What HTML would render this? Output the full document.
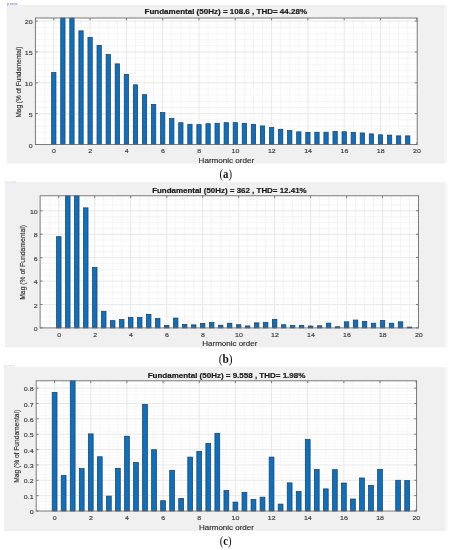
<!DOCTYPE html>
<html><head><meta charset="utf-8"><title>FFT harmonic spectra</title>
<style>
html,body{margin:0;padding:0;background:#fff}
svg{display:block}
text{font-family:"Liberation Sans",sans-serif}
.tk{font-size:6.1px;fill:#3c3c3c;stroke:#3c3c3c;stroke-width:0.15}
.xl{font-size:6.4px;fill:#333;stroke:#333;stroke-width:0.15}
.yl{font-size:8.0px;fill:#333;stroke:#333;stroke-width:0.15}
.tt{font-size:7.2px;font-weight:bold;fill:#1a1a1a;stroke:#1a1a1a;stroke-width:0.2}
.cp{font-family:"Liberation Serif",serif;font-size:11.7px;fill:#111}
</style></head>
<body>
<svg width="453" height="550" viewBox="0 0 453 550">
<defs><filter id="bl" x="-2%" y="-2%" width="104%" height="104%"><feGaussianBlur stdDeviation="0.55"/></filter></defs>
<rect width="453" height="550" fill="#fff"/>
<g filter="url(#bl)">
<g>
<rect x="6.8" y="5.0" width="440.4" height="158.4" fill="#f6f6f6"/>
<rect x="6.8" y="5.0" width="437.4" height="158.4" fill="#f0f0f0"/>
<text x="7.0" y="5.2" font-size="2.9" fill="#4646cc" opacity="0.9" textLength="10.6" lengthAdjust="spacingAndGlyphs">p error</text>
<rect x="35.4" y="18.0" width="381.8" height="126.5" fill="#fff"/>
<path d="M44.72 18.0V144.5M62.88 18.0V144.5M71.95 18.0V144.5M81.02 18.0V144.5M99.17 18.0V144.5M108.25 18.0V144.5M117.32 18.0V144.5M135.47 18.0V144.5M144.55 18.0V144.5M153.62 18.0V144.5M171.77 18.0V144.5M180.85 18.0V144.5M189.93 18.0V144.5M208.07 18.0V144.5M217.15 18.0V144.5M226.22 18.0V144.5M244.38 18.0V144.5M253.45 18.0V144.5M262.52 18.0V144.5M280.67 18.0V144.5M289.75 18.0V144.5M298.82 18.0V144.5M316.97 18.0V144.5M326.05 18.0V144.5M335.12 18.0V144.5M353.27 18.0V144.5M362.35 18.0V144.5M371.43 18.0V144.5M389.57 18.0V144.5M398.65 18.0V144.5M407.72 18.0V144.5M35.4 138.33H417.2M35.4 132.16H417.2M35.4 125.99H417.2M35.4 119.82H417.2M35.4 107.48H417.2M35.4 101.31H417.2M35.4 95.14H417.2M35.4 88.97H417.2M35.4 76.63H417.2M35.4 70.46H417.2M35.4 64.29H417.2M35.4 58.12H417.2M35.4 45.78H417.2M35.4 39.61H417.2M35.4 33.44H417.2M35.4 27.27H417.2" stroke="#f3f3f3" stroke-width="0.8" fill="none"/>
<path d="M53.80 18.0V144.5M90.10 18.0V144.5M126.40 18.0V144.5M162.70 18.0V144.5M199.00 18.0V144.5M235.30 18.0V144.5M271.60 18.0V144.5M307.90 18.0V144.5M344.20 18.0V144.5M380.50 18.0V144.5M35.4 113.65H417.2M35.4 82.80H417.2M35.4 51.95H417.2M35.4 21.10H417.2" stroke="#e5e5e5" stroke-width="0.9" fill="none"/>
<g fill="#0e70bf" stroke="#1d4068" stroke-width="0.75">
<rect x="51.65" y="72.50" width="4.30" height="72.00"/><rect x="60.73" y="18.00" width="4.30" height="126.50"/><rect x="69.80" y="18.00" width="4.30" height="126.50"/><rect x="78.87" y="30.85" width="4.30" height="113.65"/><rect x="87.95" y="37.33" width="4.30" height="107.17"/><rect x="97.02" y="45.35" width="4.30" height="99.15"/><rect x="106.10" y="54.60" width="4.30" height="89.90"/><rect x="115.17" y="63.86" width="4.30" height="80.64"/><rect x="124.25" y="74.35" width="4.30" height="70.15"/><rect x="133.32" y="84.84" width="4.30" height="59.66"/><rect x="142.40" y="94.71" width="4.30" height="49.79"/><rect x="151.47" y="104.40" width="4.30" height="40.10"/><rect x="160.55" y="112.60" width="4.30" height="31.90"/><rect x="169.62" y="118.59" width="4.30" height="25.91"/><rect x="178.70" y="122.72" width="4.30" height="21.78"/><rect x="187.78" y="124.32" width="4.30" height="20.18"/><rect x="196.85" y="124.63" width="4.30" height="19.87"/><rect x="205.92" y="123.71" width="4.30" height="20.79"/><rect x="215.00" y="123.28" width="4.30" height="21.22"/><rect x="224.07" y="122.66" width="4.30" height="21.84"/><rect x="233.15" y="122.66" width="4.30" height="21.84"/><rect x="242.22" y="123.28" width="4.30" height="21.22"/><rect x="251.30" y="124.32" width="4.30" height="20.18"/><rect x="260.38" y="125.93" width="4.30" height="18.57"/><rect x="269.45" y="127.59" width="4.30" height="16.91"/><rect x="278.52" y="129.26" width="4.30" height="15.24"/><rect x="287.60" y="130.49" width="4.30" height="14.01"/><rect x="296.68" y="131.85" width="4.30" height="12.65"/><rect x="305.75" y="132.35" width="4.30" height="12.15"/><rect x="314.82" y="132.22" width="4.30" height="12.28"/><rect x="323.90" y="132.22" width="4.30" height="12.28"/><rect x="332.98" y="131.48" width="4.30" height="13.02"/><rect x="342.05" y="131.73" width="4.30" height="12.77"/><rect x="351.12" y="132.35" width="4.30" height="12.15"/><rect x="360.20" y="132.96" width="4.30" height="11.54"/><rect x="369.28" y="133.89" width="4.30" height="10.61"/><rect x="378.35" y="134.81" width="4.30" height="9.69"/><rect x="387.43" y="135.12" width="4.30" height="9.38"/><rect x="396.50" y="135.86" width="4.30" height="8.64"/><rect x="405.57" y="135.86" width="4.30" height="8.64"/>
</g>
<path d="M53.80 144.5v-2.4M53.80 18.0v2.4M90.10 144.5v-2.4M90.10 18.0v2.4M126.40 144.5v-2.4M126.40 18.0v2.4M162.70 144.5v-2.4M162.70 18.0v2.4M199.00 144.5v-2.4M199.00 18.0v2.4M235.30 144.5v-2.4M235.30 18.0v2.4M271.60 144.5v-2.4M271.60 18.0v2.4M307.90 144.5v-2.4M307.90 18.0v2.4M344.20 144.5v-2.4M344.20 18.0v2.4M380.50 144.5v-2.4M380.50 18.0v2.4M416.80 144.5v-2.4M416.80 18.0v2.4M35.4 144.50h2.4M417.2 144.50h-2.4M35.4 113.65h2.4M417.2 113.65h-2.4M35.4 82.80h2.4M417.2 82.80h-2.4M35.4 51.95h2.4M417.2 51.95h-2.4M35.4 21.10h2.4M417.2 21.10h-2.4" stroke="#4a4a4a" stroke-width="0.7" fill="none"/>
<rect x="35.4" y="18.0" width="381.8" height="126.5" fill="none" stroke="#6e6e6e" stroke-width="0.9"/>
<text class="tk" transform="translate(54.0 153.3) scale(1.15 1)" text-anchor="middle">0</text><text class="tk" transform="translate(90.3 153.3) scale(1.15 1)" text-anchor="middle">2</text><text class="tk" transform="translate(126.6 153.3) scale(1.15 1)" text-anchor="middle">4</text><text class="tk" transform="translate(162.9 153.3) scale(1.15 1)" text-anchor="middle">6</text><text class="tk" transform="translate(199.2 153.3) scale(1.15 1)" text-anchor="middle">8</text><text class="tk" transform="translate(235.5 153.3) scale(1.15 1)" text-anchor="middle">10</text><text class="tk" transform="translate(271.8 153.3) scale(1.15 1)" text-anchor="middle">12</text><text class="tk" transform="translate(308.1 153.3) scale(1.15 1)" text-anchor="middle">14</text><text class="tk" transform="translate(344.4 153.3) scale(1.15 1)" text-anchor="middle">16</text><text class="tk" transform="translate(380.7 153.3) scale(1.15 1)" text-anchor="middle">18</text><text class="tk" transform="translate(417.0 153.3) scale(1.15 1)" text-anchor="middle">20</text>
<text class="tk" transform="translate(32.6 147.6) scale(1.15 1)" text-anchor="end">0</text><text class="tk" transform="translate(32.6 116.8) scale(1.15 1)" text-anchor="end">5</text><text class="tk" transform="translate(32.6 85.9) scale(1.15 1)" text-anchor="end">10</text><text class="tk" transform="translate(32.6 55.1) scale(1.15 1)" text-anchor="end">15</text><text class="tk" transform="translate(32.6 24.2) scale(1.15 1)" text-anchor="end">20</text>
<text class="xl" x="226.4" y="162.6" text-anchor="middle" textLength="55.6" lengthAdjust="spacingAndGlyphs">Harmonic order</text>
<text class="yl" transform="translate(20.5 82.0) rotate(-90)" text-anchor="middle" textLength="71.0" lengthAdjust="spacingAndGlyphs">Mag (% of Fundamental)</text>
<text class="tt" x="225.8" y="14.0" text-anchor="middle" textLength="162.5" lengthAdjust="spacingAndGlyphs">Fundamental (50Hz) = 108.6 , THD= 44.28%</text>
</g>
<text class="cp" x="225.7" y="177.6" text-anchor="middle" textLength="12.6" lengthAdjust="spacingAndGlyphs">(<tspan font-weight="bold">a</tspan>)</text>
<g>
<rect x="5.3" y="182.3" width="442.1" height="165.0" fill="#f6f6f6"/>
<rect x="5.3" y="182.3" width="439.1" height="165.0" fill="#f0f0f0"/>
<text x="5.5" y="182.5" font-size="2.9" fill="#4646cc" opacity="0.25" textLength="10.6" lengthAdjust="spacingAndGlyphs">p error</text>
<rect x="40.1" y="195.8" width="378.4" height="132.1" fill="#fff"/>
<path d="M49.81 195.8V327.9M67.79 195.8V327.9M76.78 195.8V327.9M85.78 195.8V327.9M103.76 195.8V327.9M112.75 195.8V327.9M121.75 195.8V327.9M139.73 195.8V327.9M148.72 195.8V327.9M157.72 195.8V327.9M175.70 195.8V327.9M184.69 195.8V327.9M193.69 195.8V327.9M211.67 195.8V327.9M220.67 195.8V327.9M229.66 195.8V327.9M247.64 195.8V327.9M256.63 195.8V327.9M265.63 195.8V327.9M283.61 195.8V327.9M292.61 195.8V327.9M301.60 195.8V327.9M319.58 195.8V327.9M328.57 195.8V327.9M337.57 195.8V327.9M355.55 195.8V327.9M364.55 195.8V327.9M373.54 195.8V327.9M391.52 195.8V327.9M400.51 195.8V327.9M409.51 195.8V327.9M40.1 322.04H418.5M40.1 316.19H418.5M40.1 310.33H418.5M40.1 298.62H418.5M40.1 292.77H418.5M40.1 286.91H418.5M40.1 275.20H418.5M40.1 269.35H418.5M40.1 263.50H418.5M40.1 251.78H418.5M40.1 245.93H418.5M40.1 240.07H418.5M40.1 228.36H418.5M40.1 222.51H418.5M40.1 216.65H418.5M40.1 204.94H418.5M40.1 199.09H418.5" stroke="#f3f3f3" stroke-width="0.8" fill="none"/>
<path d="M58.80 195.8V327.9M94.77 195.8V327.9M130.74 195.8V327.9M166.71 195.8V327.9M202.68 195.8V327.9M238.65 195.8V327.9M274.62 195.8V327.9M310.59 195.8V327.9M346.56 195.8V327.9M382.53 195.8V327.9M40.1 304.48H418.5M40.1 281.06H418.5M40.1 257.64H418.5M40.1 234.22H418.5M40.1 210.80H418.5" stroke="#e5e5e5" stroke-width="0.9" fill="none"/>
<g fill="#0e70bf" stroke="#1d4068" stroke-width="0.75">
<rect x="56.55" y="236.68" width="4.50" height="91.22"/><rect x="65.54" y="195.80" width="4.50" height="132.10"/><rect x="74.53" y="195.80" width="4.50" height="132.10"/><rect x="83.53" y="207.87" width="4.50" height="120.03"/><rect x="92.52" y="267.48" width="4.50" height="60.42"/><rect x="101.51" y="311.27" width="4.50" height="16.63"/><rect x="110.50" y="320.64" width="4.50" height="7.26"/><rect x="119.50" y="319.59" width="4.50" height="8.31"/><rect x="128.49" y="317.60" width="4.50" height="10.30"/><rect x="137.48" y="317.60" width="4.50" height="10.30"/><rect x="146.47" y="314.32" width="4.50" height="13.58"/><rect x="155.47" y="318.53" width="4.50" height="9.37"/><rect x="164.46" y="325.44" width="4.50" height="2.46"/><rect x="173.45" y="318.06" width="4.50" height="9.84"/><rect x="182.44" y="324.39" width="4.50" height="3.51"/><rect x="191.44" y="324.86" width="4.50" height="3.04"/><rect x="200.43" y="323.45" width="4.50" height="4.45"/><rect x="209.42" y="322.51" width="4.50" height="5.39"/><rect x="218.42" y="325.21" width="4.50" height="2.69"/><rect x="227.41" y="323.22" width="4.50" height="4.68"/><rect x="236.40" y="324.74" width="4.50" height="3.16"/><rect x="245.39" y="325.91" width="4.50" height="1.99"/><rect x="254.38" y="322.86" width="4.50" height="5.04"/><rect x="263.38" y="322.51" width="4.50" height="5.39"/><rect x="272.37" y="319.35" width="4.50" height="8.55"/><rect x="281.36" y="324.74" width="4.50" height="3.16"/><rect x="290.36" y="325.56" width="4.50" height="2.34"/><rect x="299.35" y="325.32" width="4.50" height="2.58"/><rect x="308.34" y="326.03" width="4.50" height="1.87"/><rect x="317.33" y="325.79" width="4.50" height="2.11"/><rect x="326.32" y="323.10" width="4.50" height="4.80"/><rect x="335.32" y="326.73" width="4.50" height="1.17"/><rect x="344.31" y="321.81" width="4.50" height="6.09"/><rect x="353.30" y="320.05" width="4.50" height="7.85"/><rect x="362.30" y="321.34" width="4.50" height="6.56"/><rect x="371.29" y="323.22" width="4.50" height="4.68"/><rect x="380.28" y="320.52" width="4.50" height="7.38"/><rect x="389.27" y="323.22" width="4.50" height="4.68"/><rect x="398.26" y="321.81" width="4.50" height="6.09"/><rect x="407.26" y="327.08" width="4.50" height="0.82"/>
</g>
<path d="M58.80 327.9v-2.4M58.80 195.8v2.4M94.77 327.9v-2.4M94.77 195.8v2.4M130.74 327.9v-2.4M130.74 195.8v2.4M166.71 327.9v-2.4M166.71 195.8v2.4M202.68 327.9v-2.4M202.68 195.8v2.4M238.65 327.9v-2.4M238.65 195.8v2.4M274.62 327.9v-2.4M274.62 195.8v2.4M310.59 327.9v-2.4M310.59 195.8v2.4M346.56 327.9v-2.4M346.56 195.8v2.4M382.53 327.9v-2.4M382.53 195.8v2.4M418.50 327.9v-2.4M418.50 195.8v2.4M40.1 327.90h2.4M418.5 327.90h-2.4M40.1 304.48h2.4M418.5 304.48h-2.4M40.1 281.06h2.4M418.5 281.06h-2.4M40.1 257.64h2.4M418.5 257.64h-2.4M40.1 234.22h2.4M418.5 234.22h-2.4M40.1 210.80h2.4M418.5 210.80h-2.4" stroke="#4a4a4a" stroke-width="0.7" fill="none"/>
<rect x="40.1" y="195.8" width="378.4" height="132.1" fill="none" stroke="#6e6e6e" stroke-width="0.9"/>
<text class="tk" transform="translate(59.1 337.1) scale(1.15 1)" text-anchor="middle">0</text><text class="tk" transform="translate(95.1 337.1) scale(1.15 1)" text-anchor="middle">2</text><text class="tk" transform="translate(131.0 337.1) scale(1.15 1)" text-anchor="middle">4</text><text class="tk" transform="translate(167.0 337.1) scale(1.15 1)" text-anchor="middle">6</text><text class="tk" transform="translate(203.0 337.1) scale(1.15 1)" text-anchor="middle">8</text><text class="tk" transform="translate(238.9 337.1) scale(1.15 1)" text-anchor="middle">10</text><text class="tk" transform="translate(274.9 337.1) scale(1.15 1)" text-anchor="middle">12</text><text class="tk" transform="translate(310.9 337.1) scale(1.15 1)" text-anchor="middle">14</text><text class="tk" transform="translate(346.9 337.1) scale(1.15 1)" text-anchor="middle">16</text><text class="tk" transform="translate(382.8 337.1) scale(1.15 1)" text-anchor="middle">18</text><text class="tk" transform="translate(418.8 337.1) scale(1.15 1)" text-anchor="middle">20</text>
<text class="tk" transform="translate(37.7 331.0) scale(1.15 1)" text-anchor="end">0</text><text class="tk" transform="translate(37.7 307.6) scale(1.15 1)" text-anchor="end">2</text><text class="tk" transform="translate(37.7 284.2) scale(1.15 1)" text-anchor="end">4</text><text class="tk" transform="translate(37.7 260.7) scale(1.15 1)" text-anchor="end">6</text><text class="tk" transform="translate(37.7 237.3) scale(1.15 1)" text-anchor="end">8</text><text class="tk" transform="translate(37.7 213.9) scale(1.15 1)" text-anchor="end">10</text>
<text class="xl" x="229.8" y="346.2" text-anchor="middle" textLength="55.0" lengthAdjust="spacingAndGlyphs">Harmonic order</text>
<text class="yl" transform="translate(24.9 262.4) rotate(-90)" text-anchor="middle" textLength="74.8" lengthAdjust="spacingAndGlyphs">Mag (% of Fundamental)</text>
<text class="tt" x="229.4" y="192.9" text-anchor="middle" textLength="154.5" lengthAdjust="spacingAndGlyphs">Fundamental (50Hz) = 362 , THD= 12.41%</text>
</g>
<text class="cp" x="225.7" y="362.5" text-anchor="middle" textLength="13.9" lengthAdjust="spacingAndGlyphs">(<tspan font-weight="bold">b</tspan>)</text>
<g>
<rect x="4.2" y="367.2" width="443.2" height="163.8" fill="#f6f6f6"/>
<rect x="4.2" y="367.2" width="440.2" height="163.8" fill="#f0f0f0"/>
<text x="4.4" y="367.4" font-size="2.9" fill="#4646cc" opacity="0.3" textLength="10.6" lengthAdjust="spacingAndGlyphs">p error</text>
<rect x="36.2" y="380.8" width="380.4" height="130.2" fill="#fff"/>
<path d="M45.56 380.8V511.0M63.64 380.8V511.0M72.68 380.8V511.0M81.72 380.8V511.0M99.80 380.8V511.0M108.84 380.8V511.0M117.88 380.8V511.0M135.96 380.8V511.0M145.00 380.8V511.0M154.04 380.8V511.0M172.12 380.8V511.0M181.16 380.8V511.0M190.20 380.8V511.0M208.28 380.8V511.0M217.32 380.8V511.0M226.36 380.8V511.0M244.44 380.8V511.0M253.48 380.8V511.0M262.52 380.8V511.0M280.60 380.8V511.0M289.64 380.8V511.0M298.68 380.8V511.0M316.76 380.8V511.0M325.80 380.8V511.0M334.84 380.8V511.0M352.92 380.8V511.0M361.96 380.8V511.0M371.00 380.8V511.0M389.08 380.8V511.0M398.12 380.8V511.0M407.16 380.8V511.0M36.2 507.93H416.6M36.2 504.86H416.6M36.2 501.78H416.6M36.2 498.71H416.6M36.2 492.57H416.6M36.2 489.50H416.6M36.2 486.42H416.6M36.2 483.35H416.6M36.2 477.21H416.6M36.2 474.14H416.6M36.2 471.06H416.6M36.2 467.99H416.6M36.2 461.85H416.6M36.2 458.78H416.6M36.2 455.70H416.6M36.2 452.63H416.6M36.2 446.49H416.6M36.2 443.42H416.6M36.2 440.34H416.6M36.2 437.27H416.6M36.2 431.13H416.6M36.2 428.06H416.6M36.2 424.98H416.6M36.2 421.91H416.6M36.2 415.77H416.6M36.2 412.70H416.6M36.2 409.62H416.6M36.2 406.55H416.6M36.2 400.41H416.6M36.2 397.34H416.6M36.2 394.26H416.6M36.2 391.19H416.6M36.2 385.05H416.6M36.2 381.98H416.6" stroke="#f6f6f6" stroke-width="0.8" fill="none"/>
<path d="M54.60 380.8V511.0M90.76 380.8V511.0M126.92 380.8V511.0M163.08 380.8V511.0M199.24 380.8V511.0M235.40 380.8V511.0M271.56 380.8V511.0M307.72 380.8V511.0M343.88 380.8V511.0M380.04 380.8V511.0M36.2 495.64H416.6M36.2 480.28H416.6M36.2 464.92H416.6M36.2 449.56H416.6M36.2 434.20H416.6M36.2 418.84H416.6M36.2 403.48H416.6M36.2 388.12H416.6" stroke="#e5e5e5" stroke-width="0.9" fill="none"/>
<g fill="#0e70bf" stroke="#1d4068" stroke-width="0.75">
<rect x="52.20" y="392.42" width="4.80" height="118.58"/><rect x="61.24" y="475.52" width="4.80" height="35.48"/><rect x="70.28" y="380.80" width="4.80" height="130.20"/><rect x="79.32" y="468.61" width="4.80" height="42.39"/><rect x="88.36" y="433.89" width="4.80" height="77.11"/><rect x="97.40" y="456.78" width="4.80" height="54.22"/><rect x="106.44" y="496.10" width="4.80" height="14.90"/><rect x="115.48" y="468.30" width="4.80" height="42.70"/><rect x="124.52" y="436.20" width="4.80" height="74.80"/><rect x="133.56" y="462.62" width="4.80" height="48.38"/><rect x="142.60" y="404.40" width="4.80" height="106.60"/><rect x="151.64" y="449.71" width="4.80" height="61.29"/><rect x="160.68" y="500.71" width="4.80" height="10.29"/><rect x="169.72" y="470.30" width="4.80" height="40.70"/><rect x="178.76" y="498.40" width="4.80" height="12.60"/><rect x="187.80" y="457.09" width="4.80" height="53.91"/><rect x="196.84" y="451.40" width="4.80" height="59.60"/><rect x="205.88" y="443.42" width="4.80" height="67.58"/><rect x="214.92" y="433.28" width="4.80" height="77.72"/><rect x="223.96" y="490.42" width="4.80" height="20.58"/><rect x="233.00" y="502.09" width="4.80" height="8.91"/><rect x="242.04" y="492.41" width="4.80" height="18.59"/><rect x="251.08" y="499.48" width="4.80" height="11.52"/><rect x="260.12" y="497.18" width="4.80" height="13.82"/><rect x="269.16" y="457.09" width="4.80" height="53.91"/><rect x="278.20" y="504.09" width="4.80" height="6.91"/><rect x="287.24" y="482.89" width="4.80" height="28.11"/><rect x="296.28" y="491.49" width="4.80" height="19.51"/><rect x="305.32" y="439.58" width="4.80" height="71.42"/><rect x="314.36" y="469.37" width="4.80" height="41.63"/><rect x="323.40" y="488.88" width="4.80" height="22.12"/><rect x="332.44" y="469.68" width="4.80" height="41.32"/><rect x="341.48" y="483.04" width="4.80" height="27.96"/><rect x="350.52" y="499.02" width="4.80" height="11.98"/><rect x="359.56" y="477.98" width="4.80" height="33.02"/><rect x="368.60" y="485.35" width="4.80" height="25.65"/><rect x="377.64" y="469.37" width="4.80" height="41.63"/><rect x="395.72" y="480.28" width="4.80" height="30.72"/><rect x="404.76" y="480.59" width="4.80" height="30.41"/>
</g>
<path d="M54.60 511.0v-2.4M54.60 380.8v2.4M90.76 511.0v-2.4M90.76 380.8v2.4M126.92 511.0v-2.4M126.92 380.8v2.4M163.08 511.0v-2.4M163.08 380.8v2.4M199.24 511.0v-2.4M199.24 380.8v2.4M235.40 511.0v-2.4M235.40 380.8v2.4M271.56 511.0v-2.4M271.56 380.8v2.4M307.72 511.0v-2.4M307.72 380.8v2.4M343.88 511.0v-2.4M343.88 380.8v2.4M380.04 511.0v-2.4M380.04 380.8v2.4M416.20 511.0v-2.4M416.20 380.8v2.4M36.2 511.00h2.4M416.6 511.00h-2.4M36.2 495.64h2.4M416.6 495.64h-2.4M36.2 480.28h2.4M416.6 480.28h-2.4M36.2 464.92h2.4M416.6 464.92h-2.4M36.2 449.56h2.4M416.6 449.56h-2.4M36.2 434.20h2.4M416.6 434.20h-2.4M36.2 418.84h2.4M416.6 418.84h-2.4M36.2 403.48h2.4M416.6 403.48h-2.4M36.2 388.12h2.4M416.6 388.12h-2.4" stroke="#4a4a4a" stroke-width="0.7" fill="none"/>
<rect x="36.2" y="380.8" width="380.4" height="130.2" fill="none" stroke="#6e6e6e" stroke-width="0.9"/>
<text class="tk" transform="translate(54.7 520.2) scale(1.15 1)" text-anchor="middle">0</text><text class="tk" transform="translate(90.9 520.2) scale(1.15 1)" text-anchor="middle">2</text><text class="tk" transform="translate(127.0 520.2) scale(1.15 1)" text-anchor="middle">4</text><text class="tk" transform="translate(163.2 520.2) scale(1.15 1)" text-anchor="middle">6</text><text class="tk" transform="translate(199.3 520.2) scale(1.15 1)" text-anchor="middle">8</text><text class="tk" transform="translate(235.5 520.2) scale(1.15 1)" text-anchor="middle">10</text><text class="tk" transform="translate(271.7 520.2) scale(1.15 1)" text-anchor="middle">12</text><text class="tk" transform="translate(307.8 520.2) scale(1.15 1)" text-anchor="middle">14</text><text class="tk" transform="translate(344.0 520.2) scale(1.15 1)" text-anchor="middle">16</text><text class="tk" transform="translate(380.1 520.2) scale(1.15 1)" text-anchor="middle">18</text><text class="tk" transform="translate(416.3 520.2) scale(1.15 1)" text-anchor="middle">20</text>
<text class="tk" transform="translate(33.6 514.1) scale(1.15 1)" text-anchor="end">0</text><text class="tk" transform="translate(33.6 498.7) scale(1.15 1)" text-anchor="end">0.1</text><text class="tk" transform="translate(33.6 483.4) scale(1.15 1)" text-anchor="end">0.2</text><text class="tk" transform="translate(33.6 468.0) scale(1.15 1)" text-anchor="end">0.3</text><text class="tk" transform="translate(33.6 452.7) scale(1.15 1)" text-anchor="end">0.4</text><text class="tk" transform="translate(33.6 437.3) scale(1.15 1)" text-anchor="end">0.5</text><text class="tk" transform="translate(33.6 421.9) scale(1.15 1)" text-anchor="end">0.6</text><text class="tk" transform="translate(33.6 406.6) scale(1.15 1)" text-anchor="end">0.7</text><text class="tk" transform="translate(33.6 391.2) scale(1.15 1)" text-anchor="end">0.8</text>
<text class="xl" x="226.4" y="529.9" text-anchor="middle" textLength="54.8" lengthAdjust="spacingAndGlyphs">Harmonic order</text>
<text class="yl" transform="translate(18.6 446.3) rotate(-90)" text-anchor="middle" textLength="73.0" lengthAdjust="spacingAndGlyphs">Mag (% of Fundamental)</text>
<text class="tt" x="226.5" y="377.9" text-anchor="middle" textLength="157.6" lengthAdjust="spacingAndGlyphs">Fundamental (50Hz) = 9.558 , THD= 1.98%</text>
</g>
<text class="cp" x="225.7" y="544.6" text-anchor="middle" textLength="11.9" lengthAdjust="spacingAndGlyphs">(<tspan font-weight="bold">c</tspan>)</text>
</g>
</svg>
</body></html>
